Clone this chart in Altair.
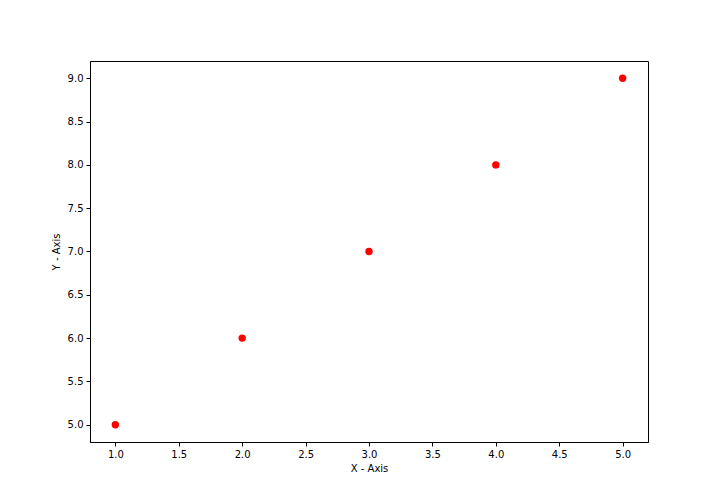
import altair as alt
import pandas as pd

xs = [1, 2, 3, 4, 5]
ys = [5, 6, 7, 8, 9]
x_ticks = [1.0, 1.5, 2.0, 2.5, 3.0, 3.5, 4.0, 4.5, 5.0]
y_ticks = [5.0, 5.5, 6.0, 6.5, 7.0, 7.5, 8.0, 8.5, 9.0]

df = pd.DataFrame({"x": xs, "y": ys})

axis_common = dict(
    grid=False, domainColor="black", tickColor="black", tickSize=4,
    labelColor="black", labelFontSize=10, labelFont="DejaVu Sans",
    titleFont="DejaVu Sans", titleFontSize=10, titleFontWeight="normal",
    titleColor="black", format=".1f", labelPadding=3,
)

chart = alt.Chart(df).mark_circle(color="red", opacity=1, size=55).encode(
    x=alt.X("x:Q", scale=alt.Scale(domain=[0.8, 5.2], nice=False, zero=False),
            axis=alt.Axis(title="X - Axis", values=x_ticks, titlePadding=4, **axis_common)),
    y=alt.Y("y:Q", scale=alt.Scale(domain=[4.8, 9.2], nice=False, zero=False),
            axis=alt.Axis(title="Y - Axis", values=y_ticks, titlePadding=6, **axis_common)),
).properties(
    width=558, height=381,
    autosize=alt.AutoSizeParams(type="none"),
    padding={"left": 82, "top": 53, "right": 64, "bottom": 54},
).configure(
    background="white",
    view=alt.ViewConfig(stroke="black", strokeWidth=1),
)

chart.save("out.html", embed_options={"renderer": "svg", "actions": False})
